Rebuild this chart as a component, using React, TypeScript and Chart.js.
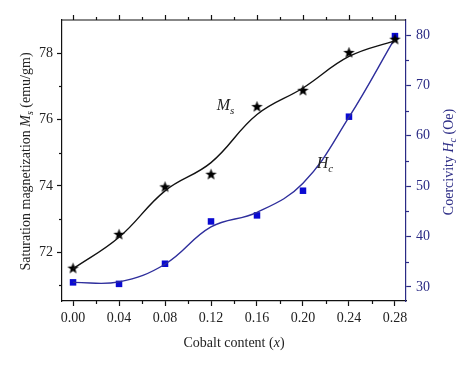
import React, { useEffect, useRef } from "react";
import { Chart, registerables } from "chart.js";

Chart.register(...registerables);

const cobalt = [0, 0.04, 0.08, 0.12, 0.16, 0.2, 0.24, 0.28];
const msPoints = [71.52, 72.54, 73.97, 74.35, 76.39, 76.88, 78.02, 78.42];
const msFit = [71.5, 72.45, 73.85, 74.7, 76.15, 76.95, 77.9, 78.38];
const hcPoints = [30.9, 30.6, 34.6, 43.0, 44.2, 49.1, 63.8, 79.8];
const hcFit = [30.9, 31.0, 34.5, 41.9, 44.8, 50.6, 63.7, 79.4];

const xTicks = [0, 0.04, 0.08, 0.12, 0.16, 0.2, 0.24, 0.28];
const xMinor = [0.02, 0.06, 0.1, 0.14, 0.18, 0.22, 0.26];
const msTicks = [72, 74, 76, 78];
const msMinor = [71, 73, 75, 77];
const hcTicks = [30, 40, 50, 60, 70, 80];
const hcMinor = [35, 45, 55, 65, 75];

const FONT = "'Liberation Serif', 'Times New Roman', serif";
const NAVY = "#2b2b85";
const HC_LINE = "#2e2e9c";
const HC_POINT = "#0a0ad2";

type Seg = { t: string; it?: boolean; sub?: boolean };

function drawRich(
  ctx: CanvasRenderingContext2D,
  segs: Seg[],
  x: number,
  y: number,
  size: number,
  color: string,
  rot: number,
  align: "center" | "left"
) {
  ctx.save();
  ctx.translate(x, y);
  ctx.rotate(rot);
  ctx.fillStyle = color;
  ctx.textBaseline = "alphabetic";
  const fontFor = (s: Seg) =>
    `${s.it ? "italic " : ""}${s.sub ? Math.round(size * 0.7) : size}px ${FONT}`;
  let total = 0;
  const widths = segs.map((s) => {
    ctx.font = fontFor(s);
    const w = ctx.measureText(s.t).width;
    total += w;
    return w;
  });
  let cx = align === "center" ? -total / 2 : 0;
  const base = align === "center" ? size * 0.35 : 0;
  segs.forEach((s, i) => {
    ctx.font = fontFor(s);
    ctx.fillText(s.t, cx, base + (s.sub ? size * 0.25 : 0));
    cx += widths[i];
  });
  ctx.restore();
}

function makeStar(): HTMLCanvasElement {
  const c = document.createElement("canvas");
  c.width = 13;
  c.height = 13;
  const g = c.getContext("2d")!;
  g.fillStyle = "#000";
  g.beginPath();
  for (let i = 0; i < 10; i++) {
    const r = i % 2 === 0 ? 6 : 2.5;
    const a = -Math.PI / 2 + (i * Math.PI) / 5;
    const px = 6.5 + r * Math.cos(a);
    const py = 6.8 + r * Math.sin(a);
    if (i === 0) g.moveTo(px, py);
    else g.lineTo(px, py);
  }
  g.closePath();
  g.fill();
  return c;
}

const decorPlugin = {
  id: "decor",
  afterDraw(chart: any) {
    const ctx: CanvasRenderingContext2D = chart.ctx;
    const { left, right, top, bottom } = chart.chartArea;
    const x = chart.scales.x;
    const y = chart.scales.y;
    const y2 = chart.scales.y2;
    ctx.save();
    ctx.lineWidth = 1.2;
    // top frame line
    ctx.strokeStyle = "#111";
    ctx.beginPath();
    ctx.moveTo(left, top);
    ctx.lineTo(right, top);
    ctx.stroke();
    // top major + minor, bottom minor
    xTicks.forEach((v) => {
      const px = Math.round(x.getPixelForValue(v)) + 0.5;
      ctx.beginPath();
      ctx.moveTo(px, top);
      ctx.lineTo(px, top - 5);
      ctx.stroke();
    });
    xMinor.forEach((v) => {
      const px = Math.round(x.getPixelForValue(v)) + 0.5;
      ctx.beginPath();
      ctx.moveTo(px, top);
      ctx.lineTo(px, top - 3);
      ctx.moveTo(px, bottom);
      ctx.lineTo(px, bottom + 3);
      ctx.stroke();
    });
    msMinor.forEach((v) => {
      const py = Math.round(y.getPixelForValue(v)) + 0.5;
      ctx.beginPath();
      ctx.moveTo(left, py);
      ctx.lineTo(left - 3, py);
      ctx.stroke();
    });
    ctx.strokeStyle = NAVY;
    hcMinor.forEach((v) => {
      const py = Math.round(y2.getPixelForValue(v)) + 0.5;
      ctx.beginPath();
      ctx.moveTo(right, py);
      ctx.lineTo(right + 3, py);
      ctx.stroke();
    });
    ctx.restore();

    // axis titles
    drawRich(
      ctx,
      [{ t: "Saturation magnetization " }, { t: "M", it: true }, { t: "s", it: true, sub: true }, { t: " (emu/gm)" }],
      25,
      (top + bottom) / 2 + 1,
      14,
      "#222",
      -Math.PI / 2,
      "center"
    );
    drawRich(
      ctx,
      [{ t: "Coercivity " }, { t: "H", it: true }, { t: "c", it: true, sub: true }, { t: " (Oe)" }],
      448,
      162,
      14,
      NAVY,
      -Math.PI / 2,
      "center"
    );
    drawRich(
      ctx,
      [{ t: "Cobalt content (" }, { t: "x", it: true }, { t: ")" }],
      (left + right) / 2,
      342,
      14,
      "#222",
      0,
      "center"
    );
    // series labels
    drawRich(
      ctx,
      [{ t: "M", it: true }, { t: "s", it: true, sub: true }],
      x.getPixelForValue(0.125),
      y.getPixelForValue(76.3),
      16,
      "#222",
      0,
      "left"
    );
    drawRich(
      ctx,
      [{ t: "H", it: true }, { t: "c", it: true, sub: true }],
      x.getPixelForValue(0.212),
      y2.getPixelForValue(53.6),
      16,
      "#222",
      0,
      "left"
    );
  },
};

export default function App() {
  const ref = useRef<HTMLCanvasElement | null>(null);
  useEffect(() => {
    document.body.style.margin = "0";
    const star = makeStar();
    const chart = new Chart(ref.current!, {
      type: "line",
      data: {
        datasets: [
          {
            data: cobalt.map((c, i) => ({ x: c, y: msFit[i] })),
            yAxisID: "y",
            borderColor: "#111",
            borderWidth: 1.4,
            pointRadius: 0,
            tension: 0.4,
            fill: false,
          },
          {
            data: cobalt.map((c, i) => ({ x: c, y: msPoints[i] })),
            yAxisID: "y",
            showLine: false,
            pointStyle: star as any,
            pointRadius: 6,
          },
          {
            data: cobalt.map((c, i) => ({ x: c, y: hcFit[i] })),
            yAxisID: "y2",
            borderColor: HC_LINE,
            borderWidth: 1.4,
            pointRadius: 0,
            tension: 0.4,
            fill: false,
          },
          {
            data: cobalt.map((c, i) => ({ x: c, y: hcPoints[i] })),
            yAxisID: "y2",
            showLine: false,
            pointStyle: "rect",
            pointRadius: 4.6,
            pointBackgroundColor: HC_POINT,
            pointBorderColor: HC_POINT,
            pointBorderWidth: 0,
          },
        ],
      },
      options: {
        animation: false,
        responsive: false,
        events: [],
        layout: { padding: { top: 20, left: 0, right: 0, bottom: 0 } },
        plugins: { legend: { display: false }, tooltip: { enabled: false } },
        scales: {
          x: {
            type: "linear",
            min: -0.0096,
            max: 0.2896,
            afterBuildTicks: (s: any) => {
              s.ticks = xTicks.map((v) => ({ value: v }));
            },
            afterFit: (s: any) => {
              s.height = 64;
            },
            border: { color: "#111", width: 1.2 },
            grid: { drawOnChartArea: false, tickLength: 5, tickColor: "#111", tickWidth: 1.2 },
            ticks: {
              color: "#222",
              padding: 4,
              maxRotation: 0,
              font: { family: FONT, size: 14 },
              callback: (v: any) => Number(v).toFixed(2),
            },
          },
          y: {
            type: "linear",
            position: "left",
            min: 70.53,
            max: 79,
            afterBuildTicks: (s: any) => {
              s.ticks = msTicks.map((v) => ({ value: v }));
            },
            afterFit: (s: any) => {
              s.width = 62;
            },
            border: { color: "#111", width: 1.2 },
            grid: { drawOnChartArea: false, tickLength: 5, tickColor: "#111", tickWidth: 1.2 },
            ticks: {
              color: "#222",
              padding: 4,
              font: { family: FONT, size: 14 },
              callback: (v: any) => String(v),
            },
          },
          y2: {
            type: "linear",
            position: "right",
            min: 27.2,
            max: 83,
            afterBuildTicks: (s: any) => {
              s.ticks = hcTicks.map((v) => ({ value: v }));
            },
            afterFit: (s: any) => {
              s.width = 68;
            },
            border: { color: NAVY, width: 1.2 },
            grid: { drawOnChartArea: false, tickLength: 5, tickColor: NAVY, tickWidth: 1.2 },
            ticks: {
              color: NAVY,
              padding: 5,
              font: { family: FONT, size: 14 },
              callback: (v: any) => String(v),
            },
          },
        },
      },
      plugins: [decorPlugin],
    });
    return () => chart.destroy();
  }, []);
  return (
    <div style={{ position: "absolute", left: 0, top: 0, width: 474, height: 365, background: "#fff" }}>
      <canvas ref={ref} width={474} height={365} />
    </div>
  );
}
